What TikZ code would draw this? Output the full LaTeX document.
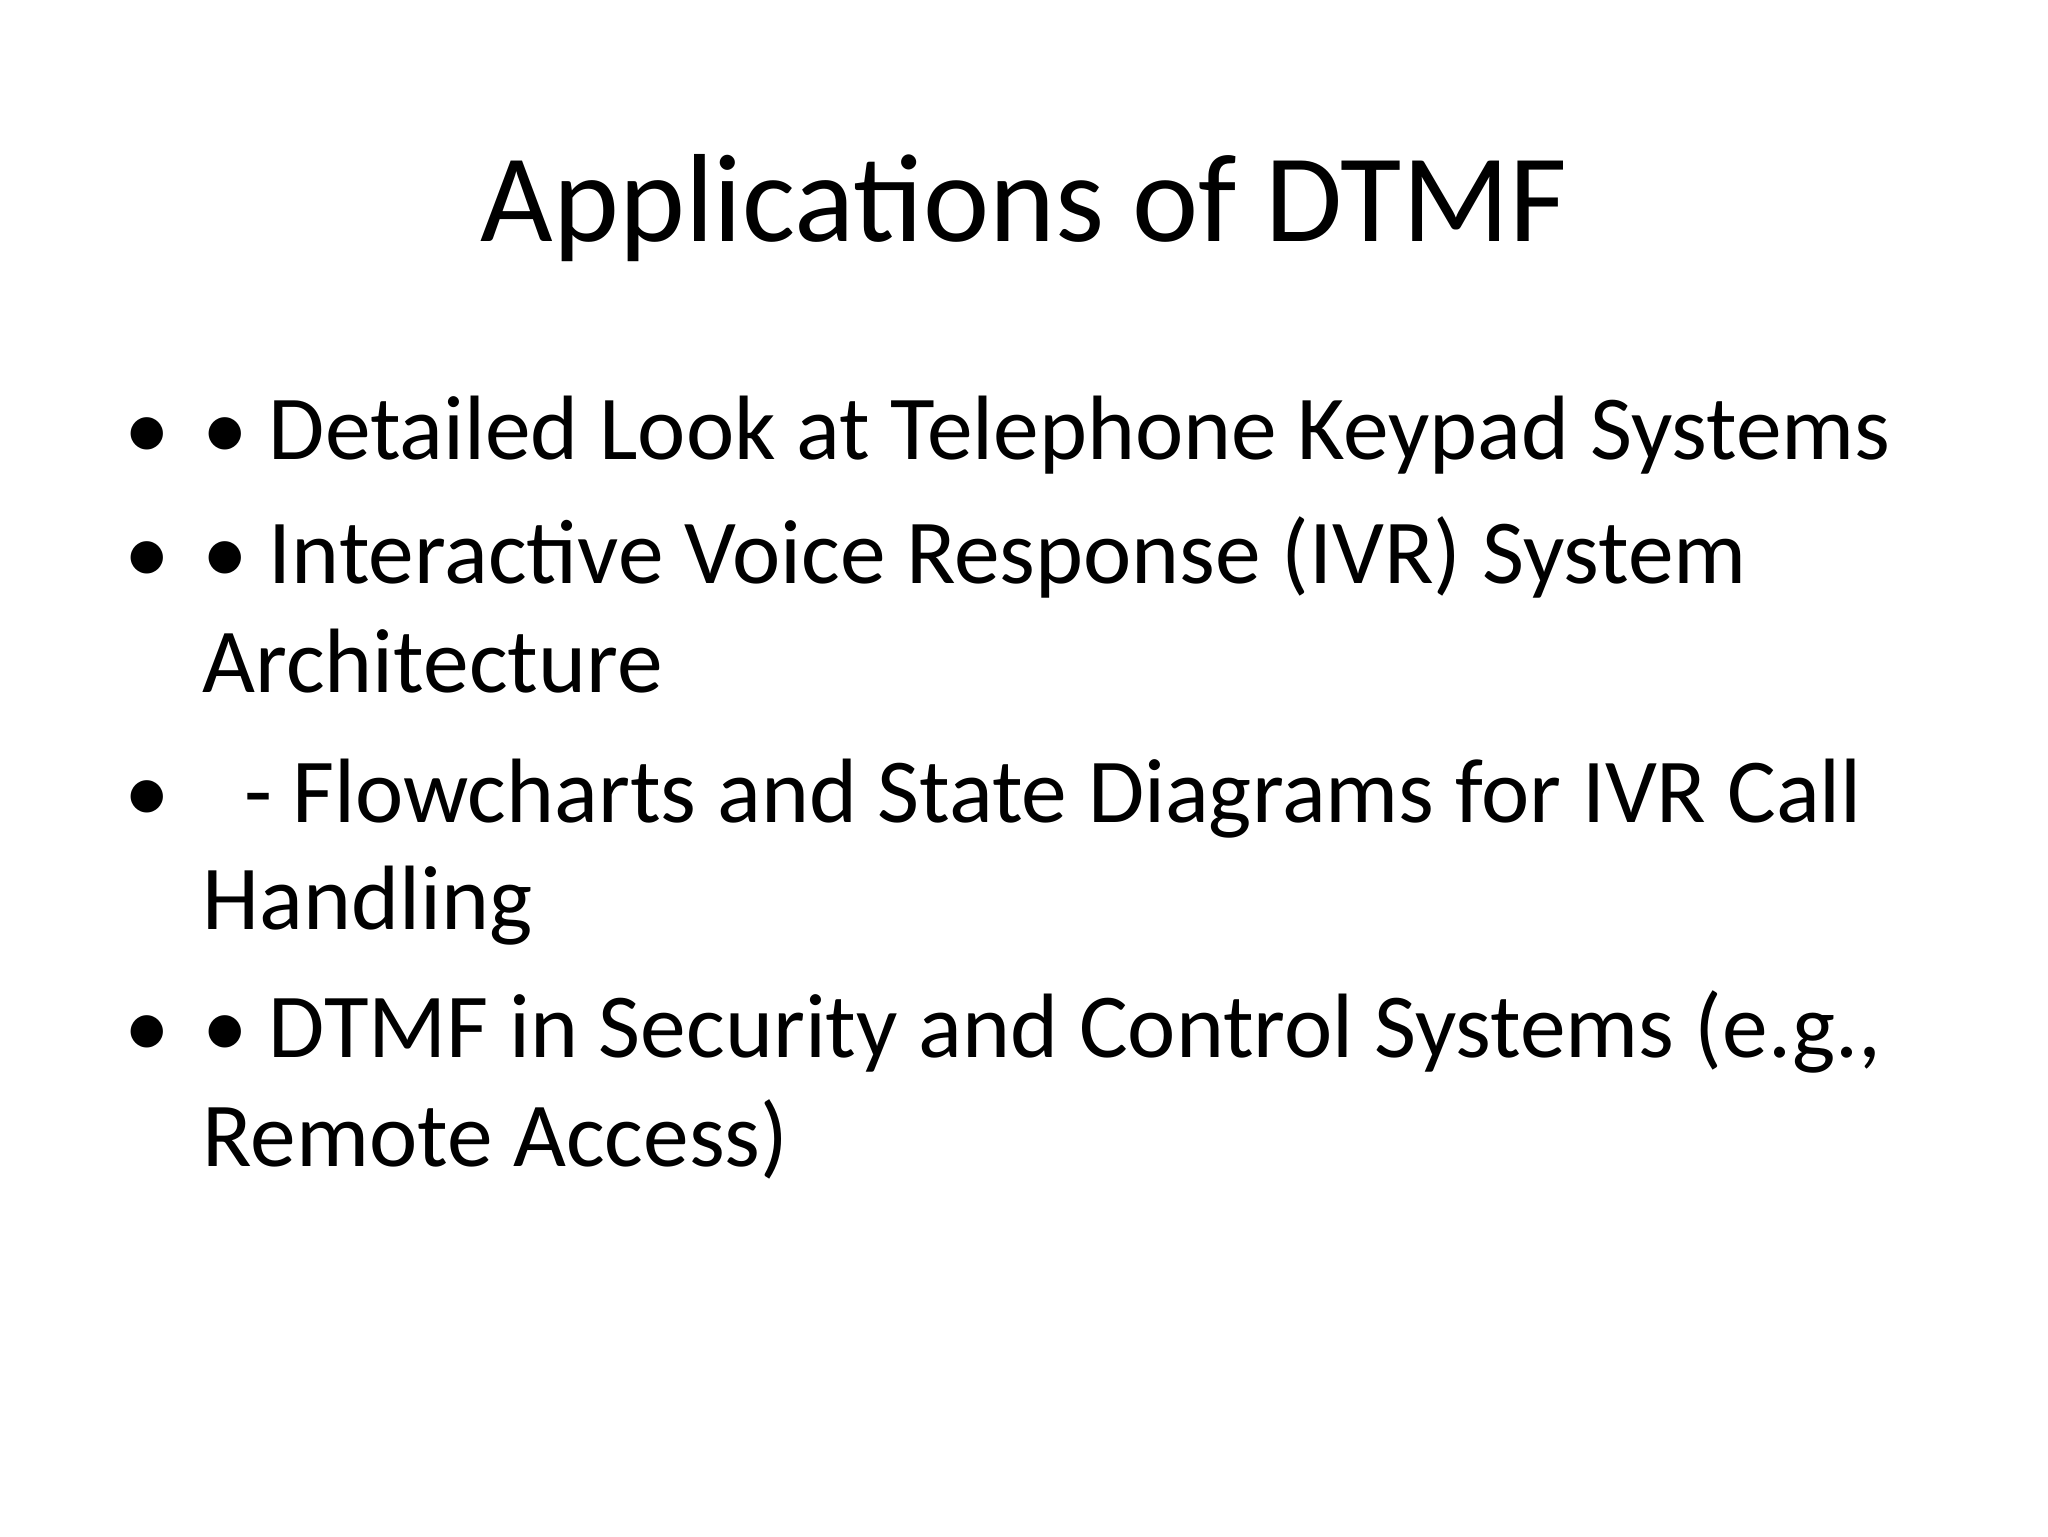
\documentclass[tikz,border=0pt]{standalone}
\usepackage{fontspec}
\setmainfont{Carlito}
\begin{document}
\begin{tikzpicture}[x=1pt,y=-1pt,
  body/.style={anchor=base west,inner sep=0pt,font=\fontsize{70}{84}\selectfont},
  bul/.style={anchor=base west,inner sep=0pt,font=\fontsize{70}{84}\selectfont}]
\useasboundingbox[fill=white] (0,0) rectangle (1568,1176);
\node[anchor=base,inner sep=0pt,font=\fontsize{96}{110}\selectfont] (title) at (784,185) {Applications of DTMF};
\node[bul] (b1) at (95,352) {•};
\node[body] (t1) at (155,352) {• Detailed Look at Telephone Keypad Systems};
\node[bul] (b2) at (95,447) {•};
\node[body] (t2) at (155,447) {• Interactive Voice Response (IVR) System};
\node[body] (t2b) at (155,530) {Architecture};
\node[bul] (b3) at (95,630) {•};
\node[body] (t3) at (155,630) {\ \ - Flowcharts and State Diagrams for IVR Call};
\node[body] (t3b) at (155,712) {Handling};
\node[bul] (b4) at (95,810) {•};
\node[body] (t4) at (155,810) {• DTMF in Security and Control Systems (e.g.,};
\node[body] (t4b) at (155,893) {Remote Access)};
\end{tikzpicture}
\end{document}
